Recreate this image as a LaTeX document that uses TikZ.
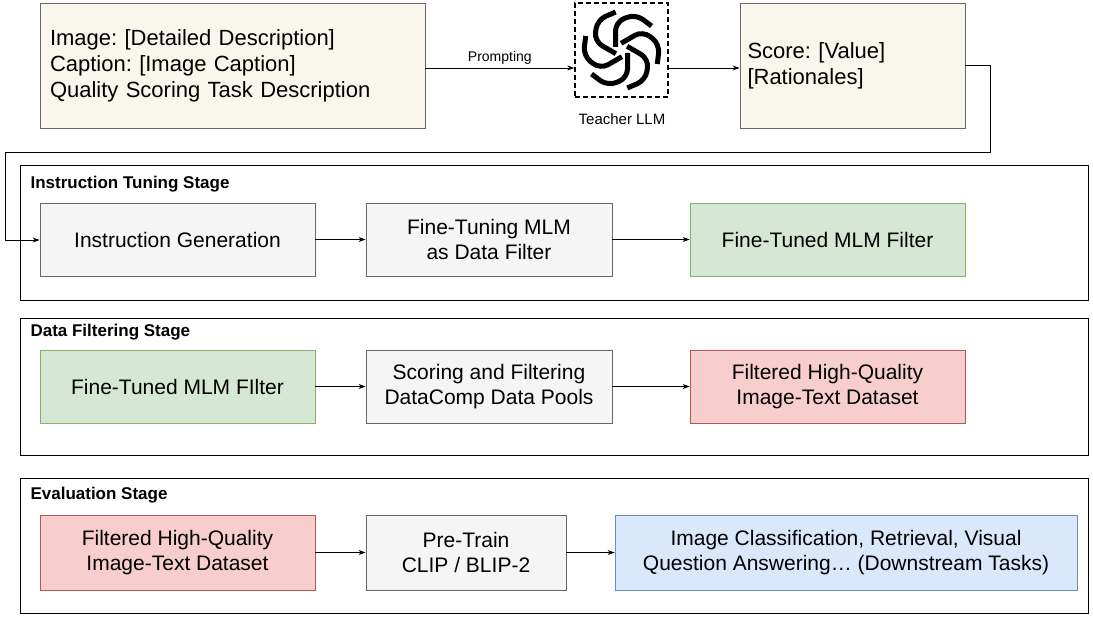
\documentclass[tikz,border=0pt]{standalone}
\usepackage{fontspec}
\setmainfont{Liberation Sans}
\frenchspacing
\usetikzlibrary{arrows.meta}
\definecolor{beige}{HTML}{F9F7ED}
\definecolor{gfill}{HTML}{D5E8D4}\definecolor{gdraw}{HTML}{82B366}
\definecolor{rfill}{HTML}{F8CECC}\definecolor{rdraw}{HTML}{B85450}
\definecolor{bfill}{HTML}{DAE8FC}\definecolor{bdraw}{HTML}{6C8EBF}
\definecolor{nfill}{HTML}{F5F5F5}\definecolor{ndraw}{HTML}{666666}
\begin{document}
\begin{tikzpicture}[x=1pt,y=-1pt,
 box/.style={draw=#1,line width=0.8pt,align=center,font=\fontsize{21}{25}\selectfont,inner sep=0pt},
 arr/.style={-{Stealth[length=7pt,width=5pt]},line width=0.8pt},
 frame/.style={draw,line width=0.8pt},
 title/.style={anchor=west,font=\bfseries\fontsize{17}{20}\selectfont}]
\useasboundingbox (0,0) rectangle (1093,620);
% top
\node[box=ndraw,fill=beige,minimum width=385pt,minimum height=125pt,align=left,text width=365pt,font=\fontsize{22}{26}\selectfont] (desc) at (232.5,65.5) {Image: [Detailed Description]\\Caption: [Image Caption]\\Quality Scoring Task Description};
\node[draw,dash pattern=on 5pt off 3pt,line width=1.4pt,minimum width=93pt,minimum height=94pt] (llm) at (621.5,50) {};
\begin{scope}[shift={(621.5,50)}]
\foreach \a in {0,60,...,300}{
 \draw[line width=5pt,rotate=\a,rounded corners=9pt] (-6,-3) -- (-6,-28) -- (14,-36) -- (30,-24) ;
}
\end{scope}
\node[font=\fontsize{15}{17}\selectfont] (tl) at (622,119) {Teacher LLM};
\node[box=ndraw,fill=beige,minimum width=225pt,minimum height=125pt,align=left,text width=210pt,font=\fontsize{22}{26}\selectfont] (score) at (852.5,65.5) {Score: [Value]\\{}[Rationales]};
\draw[arr] (desc.east |- 0,68) -- node[above,font=\fontsize{14}{16}\selectfont]{Prompting} (llm.west |- 0,68);
\draw[arr] (llm.east |- 0,68) -- (score.west |- 0,68);
% frames
\node[frame,minimum width=1068pt,minimum height=135pt] (f1) at (554,232.5) {};
\node[title] at (27,184) {Instruction Tuning Stage};
\node[frame,minimum width=1068pt,minimum height=137pt] (f2) at (554,386.5) {};
\node[title] at (27,332) {Data Filtering Stage};
\node[frame,minimum width=1068pt,minimum height=135pt] (f3) at (554,545.5) {};
\node[title] at (27,495) {Evaluation Stage};
% stage 1
\node[box=ndraw,fill=nfill,minimum width=275pt,minimum height=73pt] (a1) at (177.5,239.5) {Instruction Generation};
\node[box=ndraw,fill=nfill,minimum width=246pt,minimum height=73pt] (a2) at (489,239.5) {Fine-Tuning MLM\\as Data Filter};
\node[box=gdraw,fill=gfill,minimum width=275pt,minimum height=73pt] (a3) at (827.5,239.5) {Fine-Tuned MLM Filter};
\draw[arr] (a1) -- (a2); \draw[arr] (a2) -- (a3);
\coordinate (c1) at (990,65);
\coordinate (c2) at (990,152);
\coordinate (c3) at (5,152);
\coordinate (c4) at (5,240);
\draw[arr] (score.east |- c1) -- (c1) -- (c2) -- (c3) -- (c4) -- (a1.west |- c4);
% stage 2
\node[box=gdraw,fill=gfill,minimum width=275pt,minimum height=73pt] (b1) at (177.5,386.5) {Fine-Tuned MLM FIlter};
\node[box=ndraw,fill=nfill,minimum width=246pt,minimum height=73pt] (b2) at (489,386.5) {Scoring and Filtering\\DataComp Data Pools};
\node[box=rdraw,fill=rfill,minimum width=275pt,minimum height=73pt] (b3) at (827.5,386.5) {Filtered High-Quality\\Image-Text Dataset};
\draw[arr] (b1) -- (b2); \draw[arr] (b2) -- (b3);
% stage 3
\node[box=rdraw,fill=rfill,minimum width=275pt,minimum height=75pt] (d1) at (177.5,552.5) {Filtered High-Quality\\Image-Text Dataset};
\node[box=ndraw,fill=nfill,minimum width=200pt,minimum height=75pt] (d2) at (466,552.5) {Pre-Train\\CLIP / BLIP-2};
\node[box=bdraw,fill=bfill,minimum width=462pt,minimum height=75pt] (d3) at (846,552.5) {Image Classification, Retrieval, Visual\\Question Answering… (Downstream Tasks)};
\draw[arr] (d1) -- (d2); \draw[arr] (d2) -- (d3);
\end{tikzpicture}
\end{document}
